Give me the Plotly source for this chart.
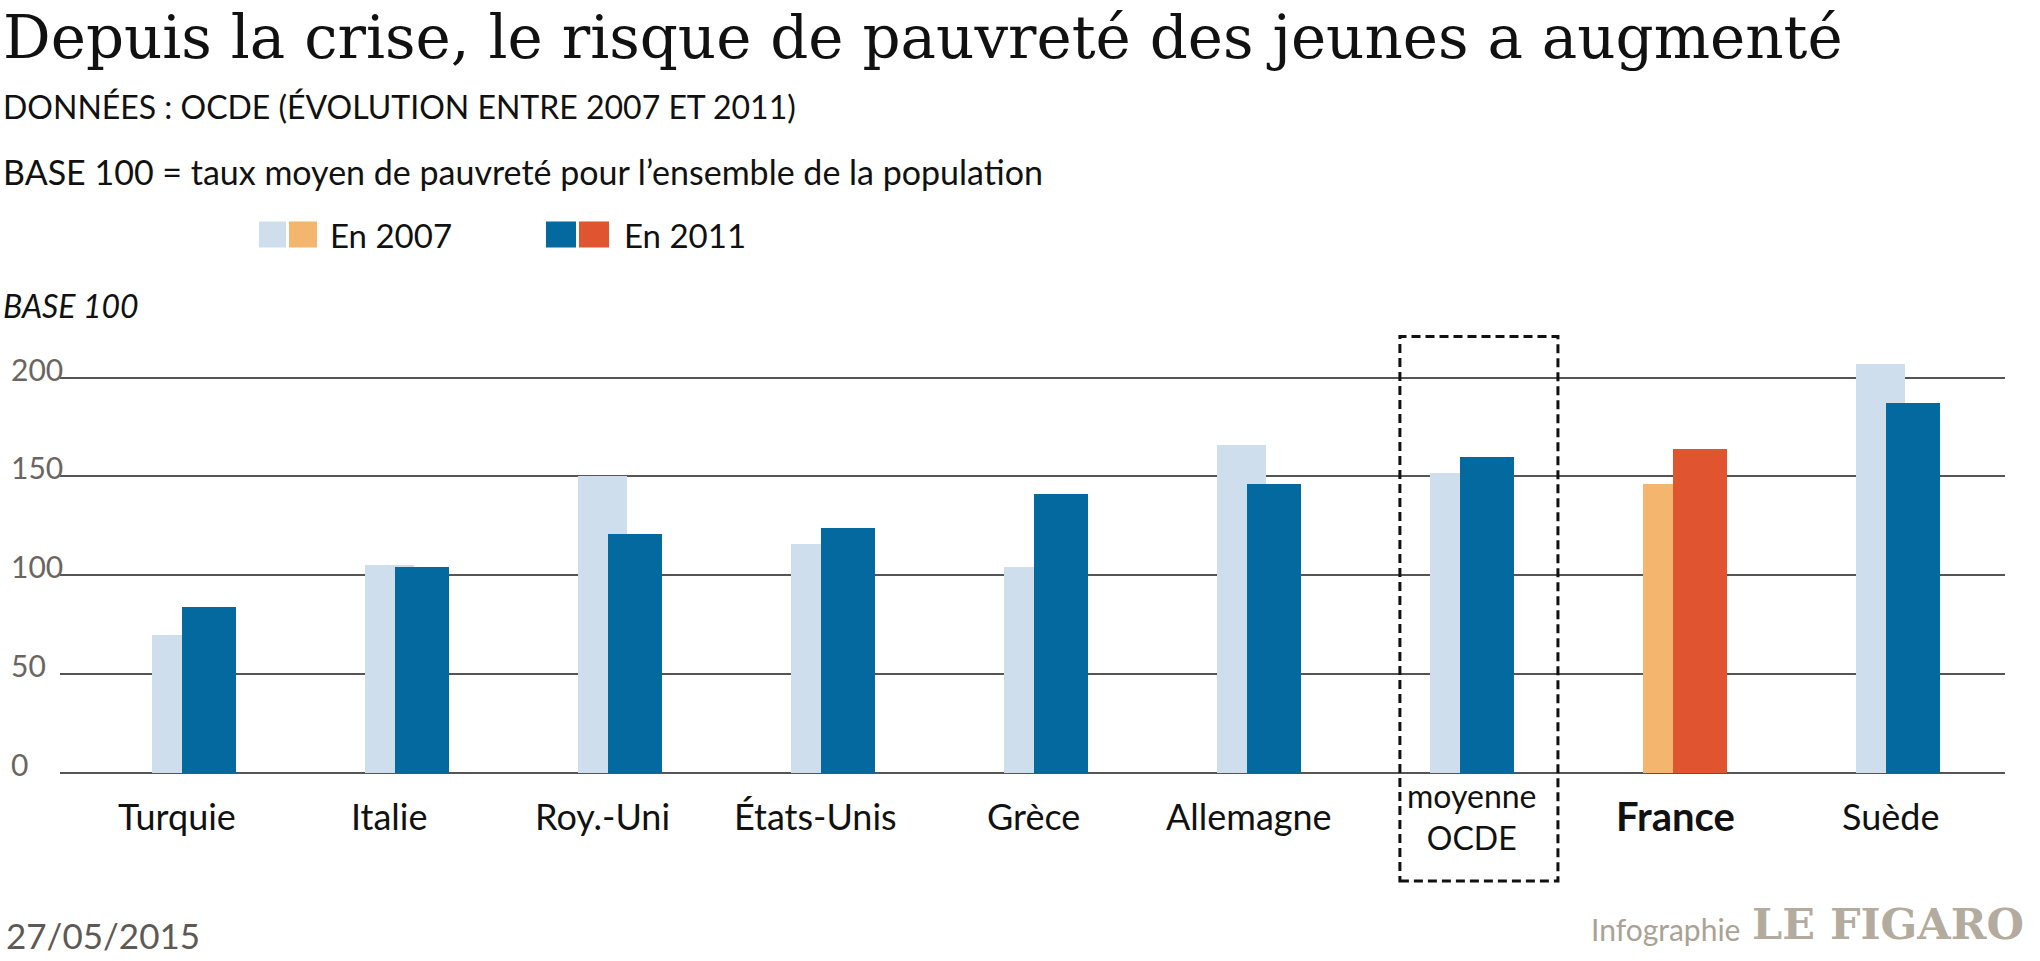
import plotly.graph_objects as go

# ---- data ----
categories = ["Turquie", "Italie", "Roy.-Uni", "États-Unis", "Grèce",
              "Allemagne", "moyenne<br>OCDE", "<b>France</b>", "Suède"]
values_2007 = [70, 105, 150, 116, 104, 166, 152, 146, 207]
values_2011 = [84, 104, 121, 124, 141, 146, 160, 164, 187]
y_ticks = [0, 50, 100, 150, 200]
highlight_index = 7  # France
average_index = 6    # moyenne OCDE

# ---- styles ----
W, H = 2040, 961
L, R, T, B = 60, 35, 348.4, 188
PW, PH = W - L - R, H - T - B
SANS = "Lato, 'Open Sans', sans-serif"
LIGHT, DARK = "#cfdeec", "#03699f"
LIGHT_HL, DARK_HL = "#f4b56f", "#e0542f"
label_shift = [0, 0, 0, 0, 5, 8, 18, 8, 10]

def px(xp):
    return (xp - L) / PW

def py(yp):
    return (H - B - yp) / PH

xs = list(range(len(categories)))
light_colors = [LIGHT_HL if i == highlight_index else LIGHT for i in xs]
dark_colors = [DARK_HL if i == highlight_index else DARK for i in xs]

fig = go.Figure()
fig.add_trace(go.Bar(x=xs, y=values_2007, width=0.23, offset=-0.115,
                     marker=dict(color=light_colors, line=dict(width=0)),
                     name="En 2007", showlegend=False, hoverinfo="y"))
fig.add_trace(go.Bar(x=xs, y=values_2011, width=0.256, offset=0.024,
                     marker=dict(color=dark_colors, line=dict(width=0)),
                     name="En 2011", showlegend=False, hoverinfo="y"))

annotations = []
# category labels
for i, c in enumerate(categories):
    size = 36
    if i == average_index:
        size = 32
    if i == highlight_index:
        size = 40
    annotations.append(dict(x=i, y=py(816), xref="x", yref="paper", text=c, xshift=label_shift[i],
                            showarrow=False, xanchor="center", yanchor="middle",
                            font=dict(family=SANS, size=size, color="#111111")))

# y tick labels (left aligned, sitting on their gridline)
for v in y_ticks:
    annotations.append(dict(x=px(9), y=v, xref="paper", yref="y", text=str(v), yshift=9,
                            showarrow=False, xanchor="left", yanchor="middle",
                            font=dict(family=SANS, size=30, color="#6b6560")))

# texts
texts = [
    dict(x=px(1), y=py(38), text="Depuis la crise, le risque de pauvreté des jeunes a augmenté",
         font=dict(family="'DejaVu Serif', serif", size=59.5, color="#111111")),
    dict(x=px(1), y=py(107), text="DONNÉES : OCDE (ÉVOLUTION ENTRE 2007 ET 2011)",
         font=dict(family=SANS, size=32, color="#111111")),
    dict(x=px(1), y=py(172), text="BASE 100 = taux moyen de pauvreté pour l’ensemble de la population",
         font=dict(family=SANS, size=34, color="#111111")),
    dict(x=px(328), y=py(236), text="En 2007", font=dict(family=SANS, size=33, color="#111111")),
    dict(x=px(622), y=py(236), text="En 2011", font=dict(family=SANS, size=33, color="#111111")),
    dict(x=px(1), y=py(306), text="<i>BASE 100</i>", font=dict(family=SANS, size=32, color="#111111")),
    dict(x=px(4), y=py(935), text="27/05/2015", font=dict(family=SANS, size=35, color="#5e5954")),
    dict(x=px(1589), y=py(929), text="Infographie", font=dict(family=SANS, size=30, color="#aaa295")),
    dict(x=px(1750), y=py(924), text="<b>LE FIGARO</b>",
         font=dict(family="'DejaVu Serif', serif", size=43, color="#b3ab9e")),
]
for a in texts:
    a.update(xref="paper", yref="paper", showarrow=False, xanchor="left", yanchor="middle")
annotations += texts

shapes = []
# legend swatches
for (x0, x1, col) in [(259, 286, LIGHT), (289, 317, LIGHT_HL), (546, 576, DARK), (579, 609, DARK_HL)]:
    shapes.append(dict(type="rect", xref="paper", yref="paper", x0=px(x0), x1=px(x1),
                       y0=py(248), y1=py(222), fillcolor=col, line=dict(width=0)))
# dashed box around OECD average
shapes.append(dict(type="rect", xref="x", yref="paper", x0=average_index - 0.256,
                   x1=average_index + 0.486, y0=py(881), y1=py(337),
                   line=dict(color="#111111", width=3, dash="9px,5px"),
                   fillcolor="rgba(0,0,0,0)", layer="above"))

fig.update_layout(
    width=W, height=H,
    margin=dict(l=L, r=R, t=T, b=B, pad=0),
    paper_bgcolor="white", plot_bgcolor="white",
    barmode="overlay", bargap=0,
    xaxis=dict(range=[-0.547, 8.585], showgrid=False, zeroline=False, showticklabels=False,
               showline=False, ticks="", fixedrange=True),
    yaxis=dict(range=[0, 215], tickvals=y_ticks, showgrid=True, gridcolor="#555555", gridwidth=1.5,
               zeroline=True, zerolinecolor="#555555", zerolinewidth=1.5, showline=False, ticks="",
               showticklabels=False, fixedrange=True),
    annotations=annotations, shapes=shapes,
    showlegend=False,
)
fig.write_html("out.html", config={"displayModeBar": False},
               post_script="document.body.style.margin='0';")
